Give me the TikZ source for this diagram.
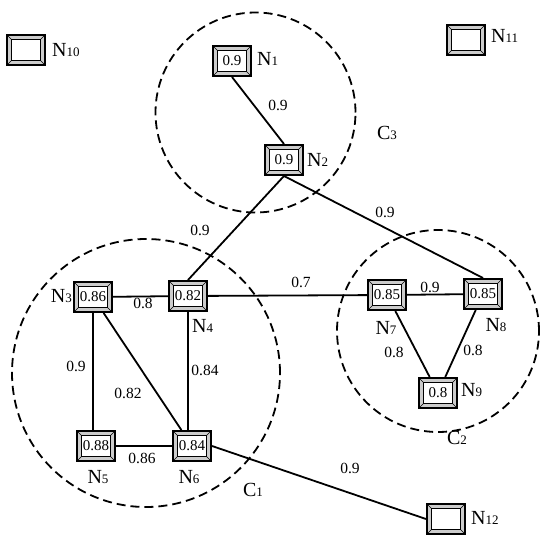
\documentclass[tikz,border=0pt]{standalone}
\usepackage{fontspec}
\setmainfont{Liberation Serif}
\usepackage{tikz}

\newcommand{\nsub}[2]{#1{\fontsize{13}{13}\selectfont #2}}

\begin{document}
\begin{tikzpicture}[x=1pt, y=-1pt,
        main/.style = {draw, line width=2pt, fill=gray!40, minimum width=38pt, minimum height=30pt,
                inner sep=0pt, font=\fontsize{15}{15}\selectfont,
                path picture={
                        \draw[line width=0.8pt, fill=white] ([shift={(4.5pt,4.5pt)}]path picture bounding box.south west)
                                rectangle ([shift={(-4.5pt,-4.5pt)}]path picture bounding box.north east);
                        \draw[line width=0.6pt] (path picture bounding box.south west) -- ++(4.5pt,4.5pt)
                                (path picture bounding box.north east) -- ++(-4.5pt,-4.5pt)
                                (path picture bounding box.north west) -- ++(4.5pt,-4.5pt)
                                (path picture bounding box.south east) -- ++(-4.5pt,4.5pt);}},
        tag/.style = {inner sep=0pt, font=\fontsize{20}{20}\selectfont},
        wt/.style = {inner sep=0pt, font=\fontsize{15.5}{15.5}\selectfont},
        group/.style = {draw, circle, dash pattern=on 9pt off 5pt, line width=1.8pt},
        link/.style = {line width=1.8pt}]
                \useasboundingbox (0, 0) rectangle (550, 544);

                % clusters
                \node[group, minimum size=200pt] at (255.5, 112.5) (G3) {};
                \node[group, minimum size=268pt] at (146, 373) (G1) {};
                \node[group, minimum size=202pt] at (438, 331) (G2) {};

                \node[main] at (232, 61) (N1) {0.9};
                \node[main] at (284, 160) (N2) {0.9};
                \node[main] at (93, 297) (N3) {0.86};
                \node[main] at (188, 296) (N4) {0.82};
                \node[main] at (96, 446) (N5) {0.88};
                \node[main] at (192, 446) (N6) {0.84};
                \node[main] at (387, 295) (N7) {0.85};
                \node[main] at (483, 294) (N8) {0.85};
                \node[main] at (438, 393) (N9) {0.8};
                \node[main] at (26, 50) (N10) {};
                \node[main] at (466, 40) (N11) {};
                \node[main] at (446, 519) (N12) {};

                \draw [link] (N1.south) -- (N2.north);
                \draw [link] (N2.south) -- (N4.north);
                \draw [link] (N2.south) -- (N8.north);
                \draw [link] (N3) -- (N4);
                \draw [link] (N3.south) -- (N3.south |- N5.north);
                \draw [link] (N3) -- (N6);
                \draw [link] (N4.south) -- (N4.south |- N6.north);
                \draw [link] (N5) -- (N6);
                \draw [link] (N4) -- (N7);
                \draw [link] (N7) -- (N8);
                \draw [link] (N7) -- (N9);
                \draw [link] (N8) -- (N9);
                \draw [link] (N6.east) -- (N12.west);

                % weights
                \node[wt] at (278, 105) (w12) {0.9};
                \node[wt] at (200, 230) (w24) {0.9};
                \node[wt] at (385, 212) (w28) {0.9};
                \node[wt] at (143, 303) (w34) {0.8};
                \node[wt] at (76, 366) (w35) {0.9};
                \node[wt] at (128, 393) (w36) {0.82};
                \node[wt] at (205, 370) (w46) {0.84};
                \node[wt] at (142, 458) (w56) {0.86};
                \node[wt] at (301, 282) (w47) {0.7};
                \node[wt] at (430, 287) (w78) {0.9};
                \node[wt] at (394, 352) (w79) {0.8};
                \node[wt] at (473, 350) (w89) {0.8};
                \node[wt] at (350, 468) (w612) {0.9};

                % names
                \node[tag, anchor=west] at (257, 59) (L1) {\nsub{N}{1}};
                \node[tag, anchor=west] at (307, 160) (L2) {\nsub{N}{2}};
                \node[tag, anchor=east] at (72, 296) (L3) {\nsub{N}{3}};
                \node[tag, anchor=west] at (192, 326) (L4) {\nsub{N}{4}};
                \node[tag] at (98, 477) (L5) {\nsub{N}{5}};
                \node[tag] at (189, 477) (L6) {\nsub{N}{6}};
                \node[tag] at (386, 328) (L7) {\nsub{N}{7}};
                \node[tag] at (496, 325) (L8) {\nsub{N}{8}};
                \node[tag, anchor=west] at (461, 390) (L9) {\nsub{N}{9}};
                \node[tag, anchor=west] at (52, 50) (L10) {\nsub{N}{10}};
                \node[tag, anchor=west] at (491, 36) (L11) {\nsub{N}{11}};
                \node[tag, anchor=west] at (471, 518) (L12) {\nsub{N}{12}};
                \node[tag] at (253, 490) (K1) {\nsub{C}{1}};
                \node[tag] at (457, 438) (K2) {\nsub{C}{2}};
                \node[tag] at (387, 133) (K3) {\nsub{C}{3}};
\end{tikzpicture}
\end{document}
